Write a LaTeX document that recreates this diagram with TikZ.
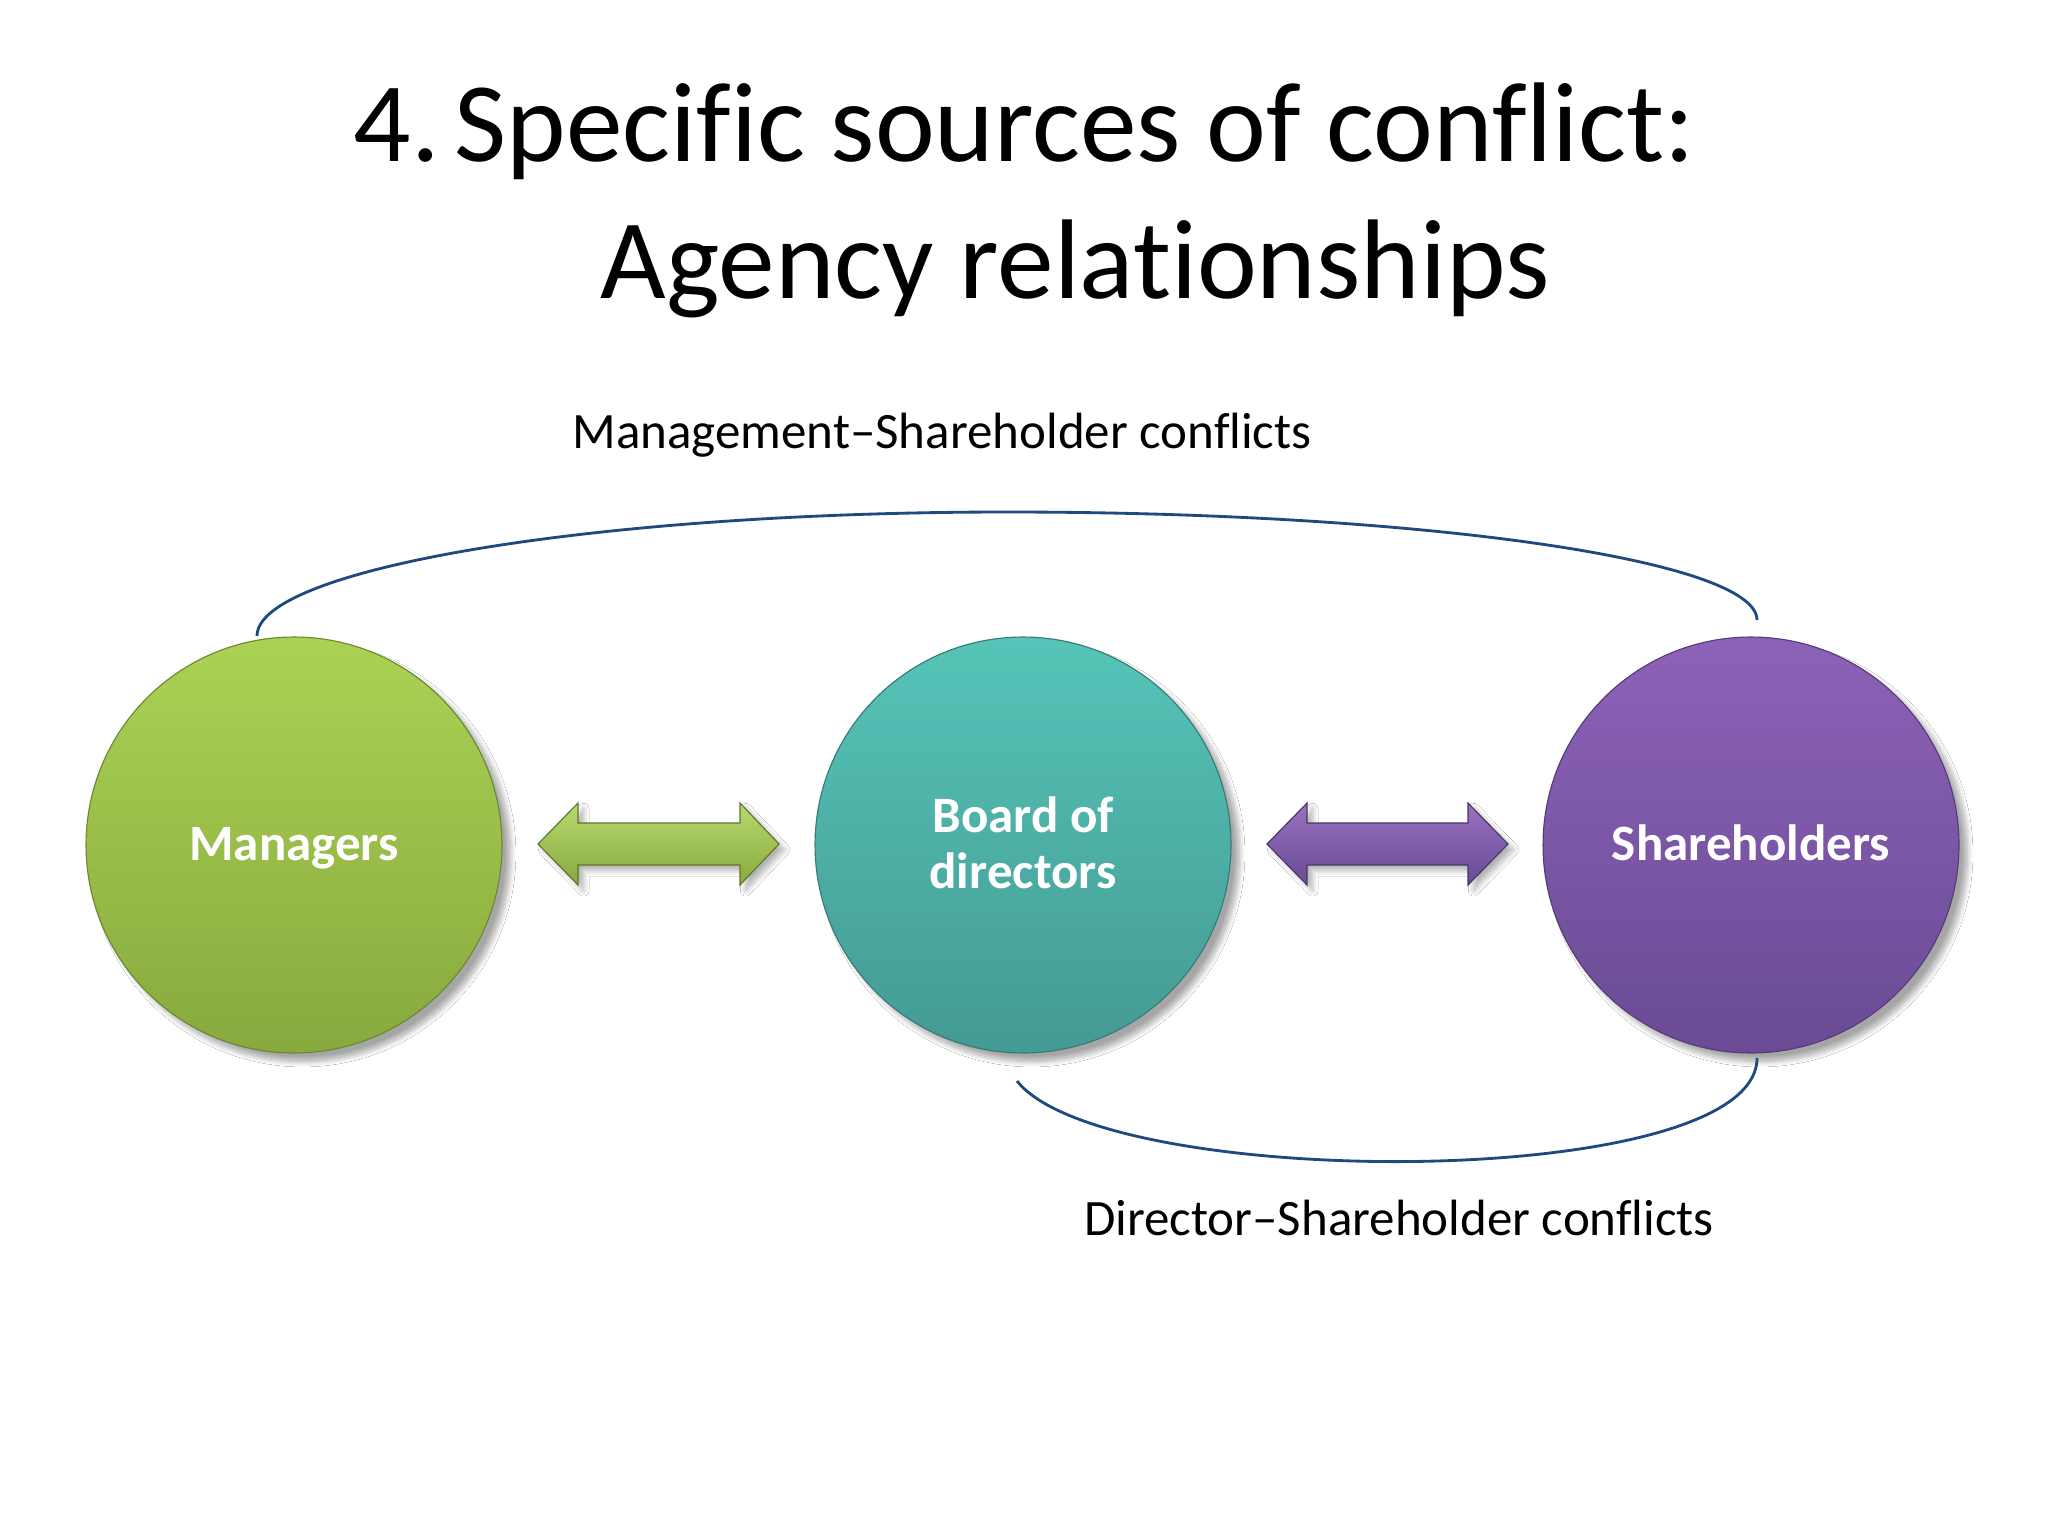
\documentclass[tikz,border=0pt]{standalone}
\usepackage{fontspec}
\setmainfont{Carlito}[Ligatures=NoCommon]
\usetikzlibrary{shadows.blur}
\definecolor{arcblue}{HTML}{1F4A7E}
\definecolor{gtop}{HTML}{ABD254}
\definecolor{gbot}{HTML}{88A93E}
\definecolor{ttop}{HTML}{56C4B8}
\definecolor{tbot}{HTML}{449A94}
\definecolor{ptop}{HTML}{8C62B8}
\definecolor{pbot}{HTML}{6A4B94}
\newcommand\bubstrut{\vrule height 15.2pt depth 4pt width 0pt}
\tikzset{
  bubble/.style={circle, minimum size=5.16cm, inner sep=0pt, align=center,
    text=white, font=\fontsize{18}{19.8}\selectfont\bfseries,
    blur shadow={shadow xshift=3pt, shadow yshift=-3pt, shadow blur steps=12, shadow opacity=35}},
  conflictarc/.style={draw=arcblue, line width=1pt},
  caption/.style={font=\fontsize{18}{22}\selectfont, inner sep=0pt, anchor=base},
  titletext/.style={font=\fontsize{40}{48}\selectfont, inner sep=0pt, anchor=base},
  dblarrow/.style={line width=0.4pt}
}
\begin{document}
\begin{tikzpicture}[x=0.0124023cm, y=-0.0124023cm]
\useasboundingbox[fill=white] (0,0) rectangle (2048,1536);

% title
\node[titletext, anchor=base west] (num) at (353,161) {4.};
\node[titletext] (t1) at (1075,161) {Specific sources of conflict:};
\node[titletext] (t2) at (1075,298) {Agency relationships};

% circles
\node[bubble, top color=gtop, bottom color=gbot, draw=gbot!80!black] (man) at (294,845) {\bubstrut Managers};
\node[bubble, top color=ttop, bottom color=tbot, draw=tbot!80!black] (board) at (1023,845) {\bubstrut Board of\\\bubstrut directors};
\node[bubble, top color=ptop, bottom color=pbot, draw=pbot!80!black] (share) at (1751,845) {\bubstrut Shareholders};

% double arrows
\path[dblarrow, top color=gtop!85!white, bottom color=gbot, draw=gbot!70!black,
  blur shadow={shadow xshift=2pt, shadow yshift=-2pt, shadow blur steps=8, shadow opacity=30}]
  (538,844) -- (578,803) -- (578,823) -- (740,823) -- (740,803) -- (779,844)
  -- (740,885) -- (740,865) -- (578,865) -- (578,885) -- cycle;
\path[dblarrow, top color=ptop!90!white, bottom color=pbot, draw=pbot!70!black,
  blur shadow={shadow xshift=2pt, shadow yshift=-2pt, shadow blur steps=8, shadow opacity=30}]
  (1267,844) -- (1307,803) -- (1307,823) -- (1468,823) -- (1468,803) -- (1508,844)
  -- (1468,885) -- (1468,865) -- (1307,865) -- (1307,885) -- cycle;

% arcs
\coordinate (a1) at (257,636);
\coordinate (a2) at (1757,620);
\coordinate (b1) at (1017,1081);
\coordinate (b2) at (1757,1058);
\draw[conflictarc] (a1) .. controls (257,569) and (593,512) .. (1007,512)
  .. controls (1421,512) and (1757,560) .. (a2);
\draw[conflictarc] (b1) .. controls (1105,1192) and (1757,1192) .. (b2);

% captions
\node[caption] (cap1) at (942,448) {Management–Shareholder conflicts};
\node[caption] (cap2) at (1399,1235) {Director–Shareholder conflicts};
\end{tikzpicture}
\end{document}
